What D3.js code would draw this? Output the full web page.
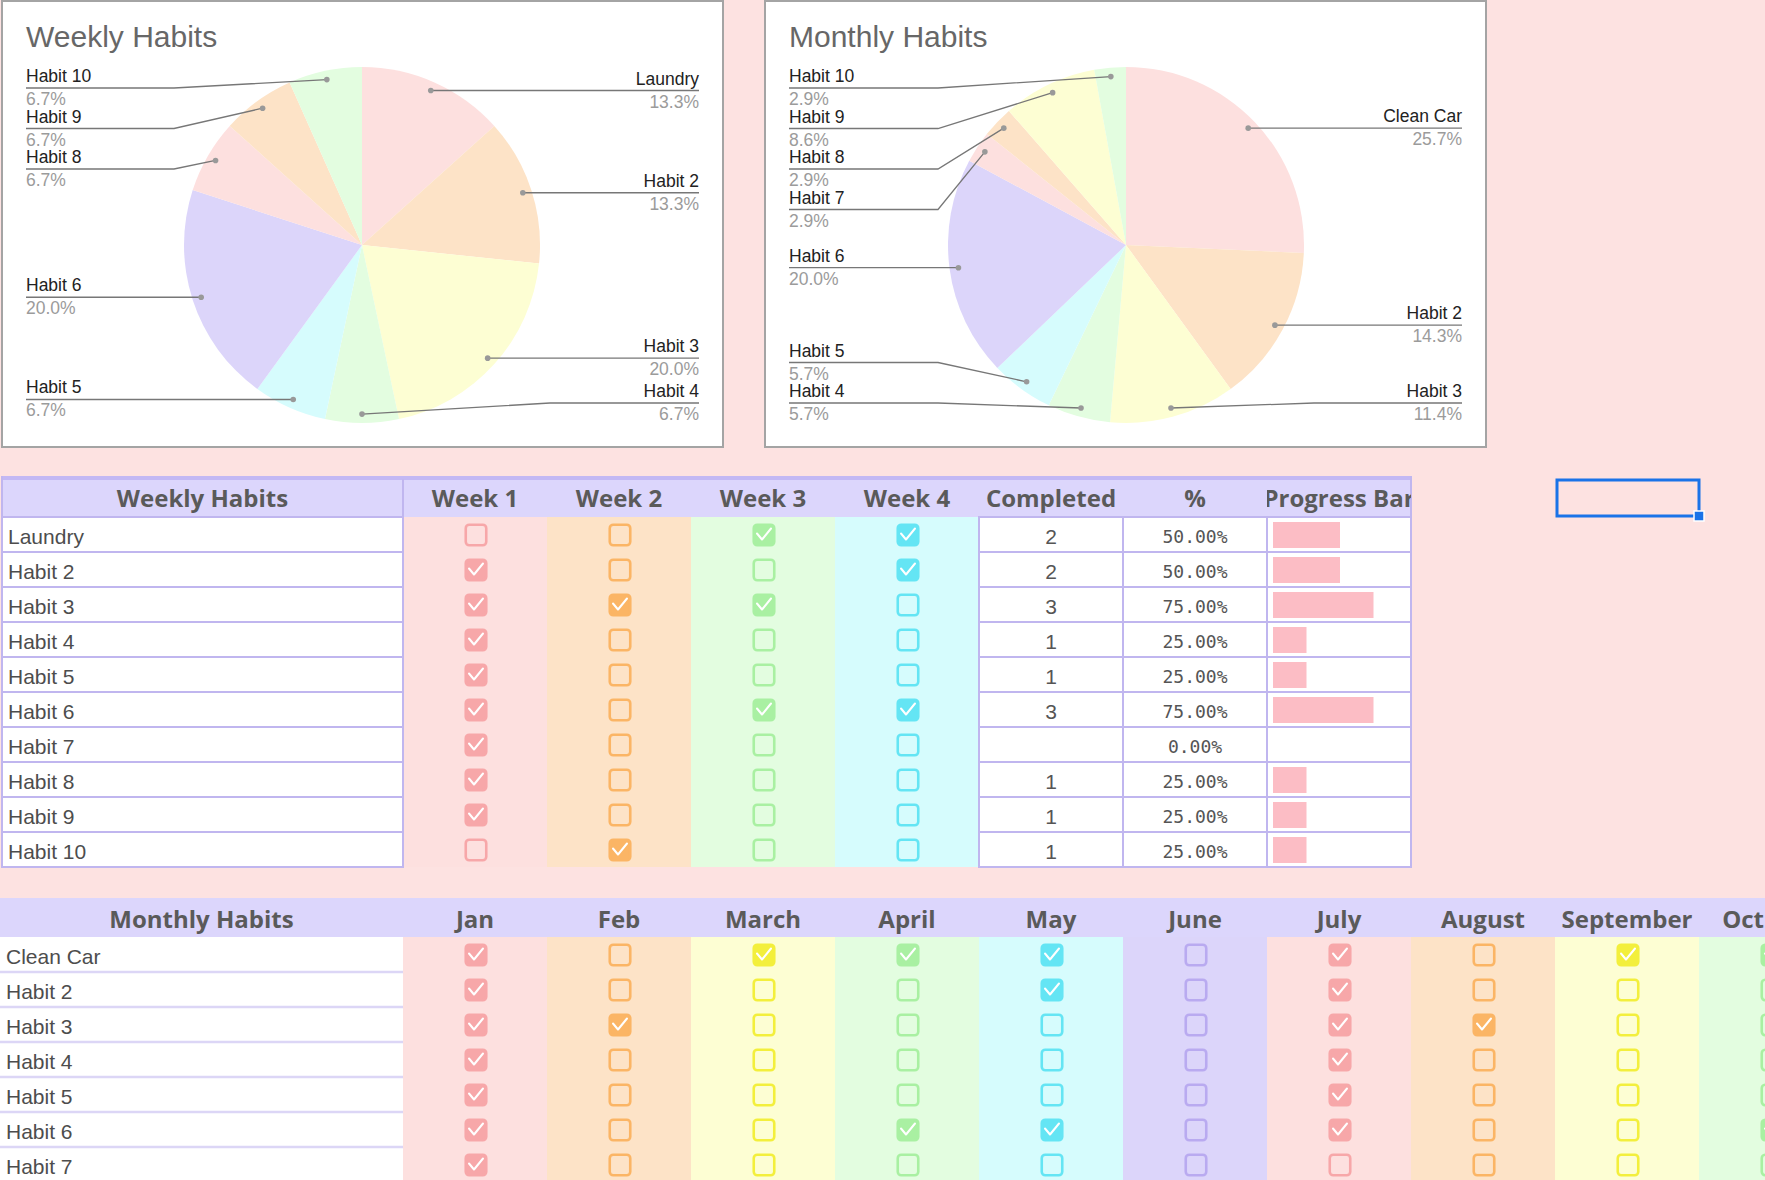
<!DOCTYPE html>
<html><head><meta charset="utf-8">
<script src="https://cdn.jsdelivr.net/npm/d3@7"></script>
<style>html,body{margin:0;padding:0;background:#fde2e1;overflow:hidden}svg{display:block}</style>
</head><body><svg id="c" width="1765" height="1180"></svg>
<script>
// ---------------- DATA ----------------
const weeklyHabits = ["Laundry","Habit 2","Habit 3","Habit 4","Habit 5","Habit 6","Habit 7","Habit 8","Habit 9","Habit 10"];
const weeks = ["Week 1","Week 2","Week 3","Week 4"];
const weeklyChecks = [
  [0,0,1,1],[1,0,0,1],[1,1,1,0],[1,0,0,0],[1,0,0,0],
  [1,0,1,1],[1,0,0,0],[1,0,0,0],[1,0,0,0],[0,1,0,0]
];
const weeklyCompleted = [2,2,3,1,1,3,null,1,1,1];
const weeklyPercent = [0.5,0.5,0.75,0.25,0.25,0.75,0,0.25,0.25,0.25];
const weeklyPieValues = [2,2,3,1,1,3,0,1,1,1];
const weeklyPieColorKeys = ["pink","peach","yellow","green","cyan","lavender","pink","pink","peach","green"];

const monthlyHabits = ["Clean Car","Habit 2","Habit 3","Habit 4","Habit 5","Habit 6","Habit 7","Habit 8","Habit 9","Habit 10"];
const monthlyPieValues = [9,5,4,2,2,7,1,1,3,1];
const monthlyPieColorKeys = ["pink","peach","yellow","green","cyan","lavender","pink","peach","yellow","green"];
const months = ["Jan","Feb","March","April","May","June","July","August","September","Oct"];
const monthColorKeys = ["pink","peach","yellow","green","cyan","lavender","pink","peach","yellow","green"];
const monthlyChecks = [
  [1,0,1,1,1,0,1,0,1,1],
  [1,0,0,0,1,0,1,0,0,0],
  [1,1,0,0,0,0,1,1,0,0],
  [1,0,0,0,0,0,1,0,0,0],
  [1,0,0,0,0,0,1,0,0,0],
  [1,0,0,1,1,0,1,0,0,1],
  [1,0,0,0,0,0,0,0,0,0]
];
const weekColorKeys = ["pink","peach","green","cyan"];

// ---------------- STYLE ----------------
const W = 1765;
const light = {pink:"#fde0df",peach:"#fde3c7",yellow:"#fdfed3",green:"#e3fde0",cyan:"#d6fcfd",lavender:"#dcd5fa"};
const strong = {pink:"#f7a7a9",peach:"#fbb565",yellow:"#f3ef3c",green:"#a9f0a2",cyan:"#64e5f4",lavender:"#b9aaf0"};
const headBg = "#dcd6fc", border = "#c0b6ef";

const svg = d3.select("#c");

// ---------------- PIES ----------------
function drawPie(cfg){
  const g = svg.append("g");
  const {cx, cy, r, boxX, boxW, leftX, rightX, title, names, values, colorKeys} = cfg;
  g.append("rect").attr("x",boxX).attr("y",1).attr("width",boxW).attr("height",446)
    .attr("fill","#fff").attr("stroke","#a4a4a4").attr("stroke-width",2);
  g.append("text").attr("x",leftX).attr("y",47).text(title)
    .attr("font-family","Liberation Sans, Arial, sans-serif").attr("font-size",30).attr("fill","#676767");
  const total = d3.sum(values);
  const data = values.map((v,i)=>({v, name:names[i], color:light[colorKeys[i]]}));
  const arcs = d3.pie().sort(null).value(d=>d.v)(data).filter(a=>a.data.v>0);
  const arc = d3.arc().innerRadius(0).outerRadius(r);
  g.append("g").attr("transform",`translate(${cx},${cy})`)
    .selectAll("path").data(arcs).join("path").attr("d",arc).attr("fill",d=>d.data.color);
  const items = arcs.map(a=>{
    const mid=(a.startAngle+a.endAngle)/2;
    return {a, dotX: cx+Math.sin(mid)*r*0.95, dotY: cy-Math.cos(mid)*r*0.95, side: mid<=Math.PI+1e-6?"right":"left"};
  });
  const fmt = d3.format(".1%");
  const top = cy - r + 21, bottom = cy + r - 20, sp = 40.5;
  ["left","right"].forEach(side=>{
    const its = items.filter(d=>d.side===side).sort((p,q)=>p.dotY-q.dotY);
    let prev = -1e9;
    its.forEach(d=>{ d.y = Math.max(d.dotY, prev+sp, top); prev = d.y; });
    for(let i=its.length-1;i>=0;i--){
      const lim = i===its.length-1 ? bottom : its[i+1].y - sp;
      its[i].y = Math.min(its[i].y, lim);
    }
    const lx = side==="left"?leftX:rightX;
    const elbow = side==="left"? cx-r-10 : cx+r+10;
    const anchor = side==="left"?"start":"end";
    its.forEach(d=>{
      g.append("path").attr("d",`M${lx},${d.y}L${elbow},${d.y}L${d.dotX},${d.dotY}`)
        .attr("fill","none").attr("stroke","#777").attr("stroke-width",1.3);
      g.append("circle").attr("cx",d.dotX).attr("cy",d.dotY).attr("r",2.8).attr("fill","#999");
      g.append("text").attr("x",lx).attr("y",d.y-6).attr("text-anchor",anchor).text(d.a.data.name)
        .attr("font-family","Liberation Sans, Arial, sans-serif").attr("font-size",17.5).attr("fill","#222");
      g.append("text").attr("x",lx).attr("y",d.y+17).attr("text-anchor",anchor).text(fmt(d.a.data.v/total))
        .attr("font-family","Liberation Sans, Arial, sans-serif").attr("font-size",17.5).attr("fill","#9b9b9b");
    });
  });
}
drawPie({cx:362, cy:245, r:178, boxX:2, boxW:721, leftX:26, rightX:699, title:"Weekly Habits",
  names:weeklyHabits, values:weeklyPieValues, colorKeys:weeklyPieColorKeys});
drawPie({cx:1126, cy:245, r:178, boxX:765, boxW:721, leftX:789, rightX:1462, title:"Monthly Habits",
  names:monthlyHabits, values:monthlyPieValues, colorKeys:monthlyPieColorKeys});

// ---------------- CHECKBOX ----------------
function checkbox(g, cx, cy, checked, color){
  const s = 20.5;
  g.append("rect").attr("x",cx-s/2).attr("y",cy-s/2).attr("width",s).attr("height",s).attr("rx",3.5)
    .attr("fill",checked?color:"none").attr("stroke",color).attr("stroke-width",2.6);
  if(checked){
    g.append("path").attr("d",`M${cx-7},${cy-1.5}L${cx-2},${cy+4.5}L${cx+7},${cy-6.5}`)
      .attr("fill","none").attr("stroke","#fff").attr("stroke-width",2).attr("stroke-linecap","round").attr("stroke-linejoin","round");
  }
}
const headFont = {family:"Open Sans, sans-serif", size:24, weight:700, fill:"#5a5a5a"};
function headText(g, x, y, t, clip){
  const el = g.append("text").attr("x",x).attr("y",y).attr("text-anchor","middle").text(t)
    .attr("font-family",headFont.family).attr("font-size",headFont.size).attr("font-weight",headFont.weight).attr("fill",headFont.fill);
  if(clip) el.attr("clip-path",clip);
  // keep text inside the page: if it would run past the right edge, end it at the edge
  const bb = el.node().getBBox();
  if(bb.x + bb.width > W - 1) el.attr("text-anchor","end").attr("x", W - 1);
  return el;
}
const bodyFont = "Liberation Sans, Arial, sans-serif";

// ---------------- WEEKLY TABLE ----------------
(function(){
  const g = svg.append("g");
  const colW = 144, nameX0 = 2, nameX1 = 403;
  const cols = [...weeks, "Completed", "%", "Progress Bar"];
  const x = d3.scaleBand().domain(cols).range([nameX1, nameX1 + cols.length*colW]);
  const y = d3.scaleBand().domain(weeklyHabits).range([517, 517 + weeklyHabits.length*35]);
  const right = nameX1 + cols.length*colW;
  const barX = d3.scaleLinear().domain([0,1]).range([0,134]);

  g.append("rect").attr("x",nameX0).attr("y",479).attr("width",right-nameX0).attr("height",38).attr("fill",headBg);
  g.append("rect").attr("x",nameX0).attr("y",476).attr("width",right-nameX0).attr("height",4).attr("fill","#c3b8f4");
  weeks.forEach((w,j)=>{
    g.append("rect").attr("x",x(w)).attr("y",517).attr("width",x.bandwidth()).attr("height",35*weeklyHabits.length)
      .attr("fill",light[weekColorKeys[j]]);
  });
  weeklyHabits.forEach((h,i)=>{
    const yy = y(h);
    g.append("rect").attr("x",nameX0).attr("y",yy).attr("width",nameX1-nameX0).attr("height",35)
      .attr("fill","#fff").attr("stroke",border).attr("stroke-width",2);
    ["Completed","%","Progress Bar"].forEach(c=>{
      g.append("rect").attr("x",x(c)).attr("y",yy).attr("width",colW).attr("height",35)
        .attr("fill","#fff").attr("stroke",border).attr("stroke-width",2);
    });
    g.append("text").attr("x",8).attr("y",yy+27).text(h).attr("font-family",bodyFont).attr("font-size",21).attr("fill","#4d4d4d");
    weeks.forEach((w,j)=>{
      checkbox(g, x(w)+colW/2+1, yy+18, weeklyChecks[i][j]===1, strong[weekColorKeys[j]]);
    });
    if(weeklyCompleted[i]!=null)
      g.append("text").attr("x",x("Completed")+colW/2).attr("y",yy+27).attr("text-anchor","middle").text(weeklyCompleted[i])
        .attr("font-family",bodyFont).attr("font-size",21).attr("fill","#555");
    g.append("text").attr("x",x("%")+colW/2).attr("y",yy+26).attr("text-anchor","middle").text(d3.format(".2%")(weeklyPercent[i]))
      .attr("font-family","DejaVu Sans Mono, monospace").attr("font-size",18).attr("fill","#555");
    if(weeklyPercent[i]>0)
      g.append("rect").attr("x",x("Progress Bar")+6).attr("y",yy+5).attr("width",barX(weeklyPercent[i])).attr("height",26).attr("fill","#fcbdc5");
  });
  g.append("line").attr("x1",nameX1).attr("x2",nameX1).attr("y1",479).attr("y2",517).attr("stroke",border).attr("stroke-width",2);
  g.append("line").attr("x1",nameX0).attr("x2",nameX0).attr("y1",476).attr("y2",867).attr("stroke",border).attr("stroke-width",2);
  g.append("line").attr("x1",right).attr("x2",right).attr("y1",476).attr("y2",517).attr("stroke",border).attr("stroke-width",2);
  svg.append("defs").append("clipPath").attr("id","pbclip").append("rect")
    .attr("x",x("Progress Bar")).attr("y",470).attr("width",colW).attr("height",50);
  headText(g, (nameX0+nameX1)/2, 507, "Weekly Habits");
  cols.forEach(c=> headText(g, x(c)+colW/2, 507, c, c==="Progress Bar"?"url(#pbclip)":null));
})();

// ---------------- MONTHLY TABLE ----------------
(function(){
  const g = svg.append("g");
  const colW = 144, nameX1 = 403;
  const rows = monthlyHabits.slice(0, monthlyChecks.length);
  const x = d3.scaleBand().domain(months).range([nameX1, nameX1 + months.length*colW]);
  const y = d3.scaleBand().domain(rows).range([937, 937 + rows.length*35]);
  g.append("rect").attr("x",0).attr("y",898).attr("width",W).attr("height",39).attr("fill",headBg);
  months.forEach((m,j)=>{
    g.append("rect").attr("x",x(m)).attr("y",937).attr("width",colW).attr("height",300).attr("fill",light[monthColorKeys[j]]);
  });
  g.append("rect").attr("x",0).attr("y",937).attr("width",nameX1).attr("height",300).attr("fill","#fff");
  rows.forEach((h,i)=>{
    const yy = y(h);
    g.append("line").attr("x1",0).attr("x2",nameX1).attr("y1",yy+35).attr("y2",yy+35).attr("stroke","#dcd6f6").attr("stroke-width",2.5);
    g.append("text").attr("x",6).attr("y",yy+27).text(h).attr("font-family",bodyFont).attr("font-size",21).attr("fill","#4d4d4d");
    months.forEach((m,j)=>{
      checkbox(g, x(m)+colW/2+1, yy+18, monthlyChecks[i][j]===1, strong[monthColorKeys[j]]);
    });
  });
  headText(g, nameX1/2, 928, "Monthly Habits");
  months.forEach(m=> headText(g, x(m)+colW/2, 928, m));
})();

// ---------------- SELECTION BOX ----------------
svg.append("rect").attr("x",1557).attr("y",480).attr("width",142).attr("height",36)
  .attr("fill","none").attr("stroke","#1a73e8").attr("stroke-width",3);
svg.append("rect").attr("x",1694).attr("y",511).attr("width",10).attr("height",10)
  .attr("fill","#1a73e8").attr("stroke","#fff").attr("stroke-width",1.5);
</script></body></html>
